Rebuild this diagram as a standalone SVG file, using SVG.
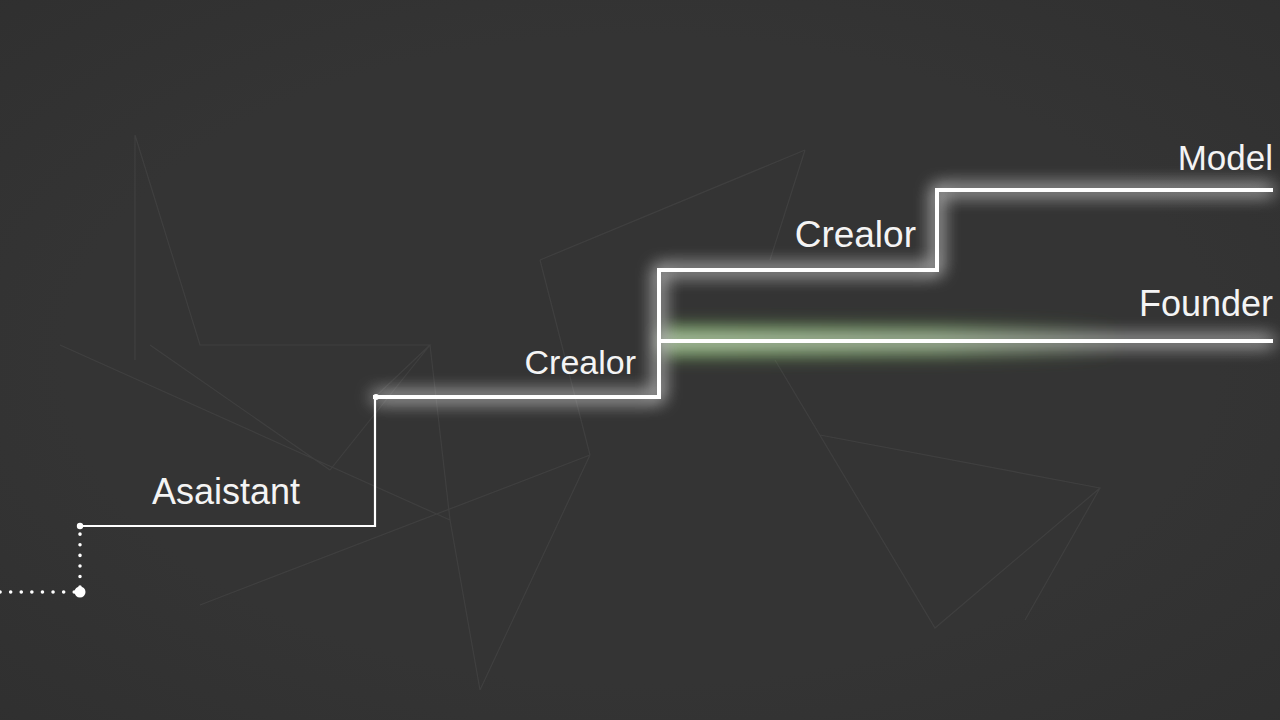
<svg xmlns="http://www.w3.org/2000/svg" width="1280" height="720" viewBox="0 0 1280 720">
<defs>
<filter id="glow" x="-20%" y="-60%" width="140%" height="220%">
<feGaussianBlur in="SourceGraphic" stdDeviation="9" result="b"/>
<feMerge><feMergeNode in="b"/><feMergeNode in="b"/><feMergeNode in="SourceGraphic"/></feMerge>
</filter>
<filter id="soft" x="-10%" y="-300%" width="120%" height="700%">
<feGaussianBlur stdDeviation="8"/>
</filter>
<linearGradient id="green" x1="0" y1="0" x2="1" y2="0">
<stop offset="0" stop-color="#6f9a5a" stop-opacity="0.85"/>
<stop offset="0.6" stop-color="#6f9a5a" stop-opacity="0.6"/>
<stop offset="1" stop-color="#6f9a5a" stop-opacity="0"/>
</linearGradient>
<radialGradient id="vign" cx="0.5" cy="0.5" r="0.75">
<stop offset="0.6" stop-color="#343434"/>
<stop offset="1" stop-color="#2f2f2f"/>
</radialGradient>
</defs>
<style>
.bg{stroke:#424242;stroke-width:1.2;fill:none;opacity:0.8}
.step{stroke:#ffffff;fill:none;stroke-linejoin:miter;stroke-linecap:square}
.lbl{font-family:"Liberation Sans",Arial,sans-serif;fill:#f4f4f4}
.dot{stroke:#ffffff;stroke-width:3.5;stroke-dasharray:0.1 10.5;stroke-linecap:round;fill:none}
</style>
<rect width="1280" height="720" fill="url(#vign)"/>
<g id="background">
<path class="bg" d="M135 135 L135 360 M135 135 L200 345 L430 345 L375 397 M60 345 L450 520 M430 345 L450 520 L480 690 M590 455 L200 605 M590 455 L480 690 M590 455 L540 260 M805 150 L540 260 M805 150 L770 260 M820 435 L1100 488 L935 628 L775 360 M1100 488 L1025 620 M330 470 L430 345 M150 345 L330 470"/>
</g>
<g id="connectors">
<rect x="665" y="324" width="460" height="34" fill="url(#green)" filter="url(#soft)"/>
<path class="dot" d="M0 592 H80 V530"/>
<circle cx="80" cy="592" r="5.5" fill="#ffffff"/>
<circle cx="80" cy="526" r="3.2" fill="#ffffff"/>
<path class="step" stroke-width="2.2" d="M80 526 H375 V397"/>
<g filter="url(#glow)">
<path class="step" stroke-width="4" d="M375 397 H659 V270 H937 V190 H1271"/>
<path class="step" stroke-width="4" d="M659 341 H1271"/>
</g>
<circle cx="376" cy="397" r="3" fill="#ffffff"/>
</g>
<g id="node-asaistant"><text class="lbl" x="152" y="504" font-size="36">Asaistant</text></g>
<g id="node-crealor1"><text class="lbl" x="636" y="374" font-size="34" text-anchor="end">Crealor</text></g>
<g id="node-crealor2"><text class="lbl" x="916" y="247" font-size="37" text-anchor="end">Crealor</text></g>
<g id="node-model"><text class="lbl" x="1273" y="170" font-size="35" text-anchor="end">Model</text></g>
<g id="node-founder"><text class="lbl" x="1273" y="316" font-size="36" text-anchor="end">Founder</text></g>
</svg>
